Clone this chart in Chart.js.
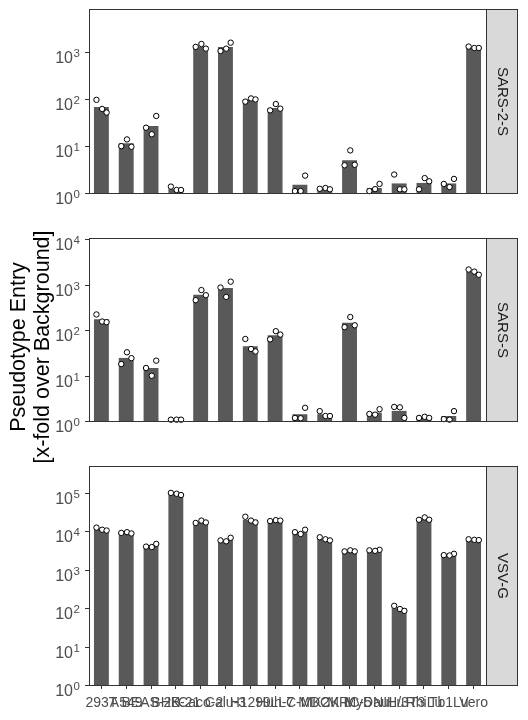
<!DOCTYPE html>
<html>
<head>
<meta charset="utf-8">
<script src="https://cdn.jsdelivr.net/npm/chart.js@4.4.0/dist/chart.umd.min.js"></script>
<style>
  html, body { margin: 0; padding: 0; background: #fff; }
  #wrap { position: relative; width: 528px; height: 720px; }
  #wrap canvas { position: absolute; left: 0; top: 0; }
</style>
</head>
<body>
<div id="wrap">
  <canvas id="p1" width="528" height="720"></canvas>
  <canvas id="p2" width="528" height="720"></canvas>
  <canvas id="p3" width="528" height="720"></canvas>
</div>
<script>
// cell lines (x categories)
const cellLines = ["293T", "A549", "BEAS-2B", "BHK-21", "Caco-2", "Calu-3", "H1299", "Huh-7",
  "LLC-MK2", "MDCK II", "MRC-5", "MyDauLu", "NIH/3T3", "RhiLu", "Tb1Lu", "Vero"];

const panelNames = ["SARS-2-S", "SARS-S", "VSV-G"];

// SARS-2-S
const sars2Mean = [68, 11.5, 27, 1.21, 1330, 1300, 97, 65, 1.5, 1.23, 5.0, 1.28, 1.6, 1.64, 1.6, 1275];
const sars2Reps = [[97, 62, 52], [13.9, 9.7, 10], [44, 24.7, 17.9], [1.37, 1.16, 1.16], [1510, 1200, 1310],
  [1610, 1070, 1200], [89, 104, 99], [79, 63, 58], [2.35, 1.1, 1.1], [1.23, 1.28, 1.2], [8.1, 4.0, 3.9],
  [1.56, 1.1, 1.21], [2.48, 1.2, 1.2], [2.08, 1.78, 1.2], [2.0, 1.56, 1.34], [1330, 1240, 1240]];

// SARS-S
const sarsMean = [174, 24.5, 14.7, 1.07, 600, 850, 44.5, 77, 1.41, 1.41, 146, 1.53, 1.67, 1.19, 1.29, 1900];
const sarsReps = [[222, 155, 150], [32.6, 24.2, 17.9], [21.3, 14.7, 9.9], [1.07, 1.07, 1.07], [765, 590, 458],
  [1170, 870, 540], [64, 38.6, 34], [95, 80, 63], [1.95, 1.17, 1.15], [1.65, 1.29, 1.29], [195, 128, 117],
  [1.82, 1.43, 1.38], [2.04, 2.0, 1.17], [1.24, 1.17, 1.17], [1.65, 1.1, 1.07], [2170, 1950, 1660]];

// VSV-G
const vsvMean = [11500, 9100, 4200, 94000, 17500, 6000, 20000, 19000, 9600, 6300, 3100, 3200, 100, 21000, 2450, 6000];
const vsvReps = [[12500, 11000, 10500], [9500, 8800, 9100], [4700, 4000, 3900], [100000, 95000, 88000],
  [19000, 17000, 16500], [6800, 5800, 5500], [24000, 19000, 17000], [19500, 19000, 18500], [11000, 9500, 8500],
  [7000, 6200, 5800], [3200, 3000, 3000], [3300, 3200, 3100], [115, 95, 85], [23000, 20000, 20000],
  [2600, 2400, 2350], [6200, 6000, 5900]];

// y axis: top of each panel (log10) and the decade ticks
const yTopExp = [3.925, 4.03, 5.70];
const yTickExp = [[0, 1, 2, 3], [0, 1, 2, 3, 4], [0, 1, 2, 3, 4, 5]];

const yTitle = ["Pseudotype Entry", "[x-fold over Background]"];

const FONT = '"Liberation Sans", Arial, sans-serif';
const jitter = [-0.2, 0.03, 0.21];

// panel boxes on the page
const panelTop = [9, 238, 466];
const panelBottom = [228, 456, 685];

const facetPlugin = {
  id: 'facet',
  afterDraw(chart, args, opts) {
    const ctx = chart.ctx, a = chart.chartArea, y = chart.scales.y;
    ctx.save();
    ctx.strokeStyle = '#333333';
    ctx.lineWidth = 1;
    // y ticks with 10^n labels
    opts.exps.forEach(function (e) {
      const py = Math.round(y.getPixelForValue(Math.pow(10, e))) + 0.5;
      ctx.beginPath();
      ctx.moveTo(a.left - 4, py);
      ctx.lineTo(a.left, py);
      ctx.stroke();
      ctx.fillStyle = '#4D4D4D';
      ctx.textBaseline = 'alphabetic';
      ctx.textAlign = 'right';
      ctx.font = '16px ' + FONT;
      ctx.fillText('10', a.left - 16, py + 10);
      ctx.textAlign = 'left';
      ctx.font = '11.5px ' + FONT;
      ctx.fillText(String(e), a.left - 15.5, py + 4);
    });
    // panel border
    const l = Math.round(a.left) + 0.5, t = Math.round(a.top) + 0.5;
    const r = Math.round(a.right) + 0.5, b = Math.round(a.bottom) + 0.5;
    ctx.strokeRect(l, t, r - l, b - t);
    // strip on the right
    ctx.fillStyle = '#D9D9D9';
    ctx.fillRect(r, t, 31, b - t);
    ctx.strokeRect(r, t, 31, b - t);
    ctx.save();
    ctx.translate(r + 15.5, (t + b) / 2);
    ctx.rotate(Math.PI / 2);
    ctx.fillStyle = '#1A1A1A';
    ctx.font = '15px ' + FONT;
    ctx.textAlign = 'center';
    ctx.textBaseline = 'middle';
    ctx.fillText(opts.name, 0, 0);
    ctx.restore();
    // shared y title
    if (opts.title) {
      ctx.save();
      ctx.translate(0, 347);
      ctx.rotate(-Math.PI / 2);
      ctx.fillStyle = '#000';
      ctx.font = '21.5px ' + FONT;
      ctx.textAlign = 'center';
      ctx.textBaseline = 'middle';
      ctx.fillText(opts.title[0], 0, 19.5);
      ctx.fillText(opts.title[1], 0, 43);
      ctx.restore();
    }
    ctx.restore();
  }
};

function makePanel(id, idx, means, reps) {
  const last = idx === 2;
  const pts = [];
  reps.forEach(function (r, i) {
    r.forEach(function (v, k) {
      pts.push({ x: i + jitter[(k + i) % 3], y: v });
    });
  });
  new Chart(document.getElementById(id), {
    type: 'bar',
    data: {
      labels: cellLines,
      datasets: [
        {
          type: 'scatter',
          data: pts,
          xAxisID: 'xj',
          yAxisID: 'y',
          pointRadius: 2.7,
          pointBorderWidth: 1,
          pointBorderColor: '#000',
          pointBackgroundColor: '#fff',
          clip: false,
          order: 0
        },
        {
          type: 'bar',
          data: means,
          xAxisID: 'x',
          yAxisID: 'y',
          backgroundColor: '#595959',
          barPercentage: 0.6,
          categoryPercentage: 1,
          grouped: false,
          order: 1
        }
      ]
    },
    options: {
      responsive: false,
      animation: false,
      events: [],
      layout: {
        padding: { left: 89, right: 42, top: panelTop[idx], bottom: last ? 0 : 720 - panelBottom[idx] }
      },
      plugins: {
        legend: { display: false },
        tooltip: { enabled: false },
        facet: { name: panelNames[idx], exps: yTickExp[idx], title: idx === 1 ? yTitle : null }
      },
      scales: {
        x: {
          type: 'category',
          offset: true,
          display: last,
          grid: { display: true, drawOnChartArea: false, drawTicks: true, tickLength: 4, color: '#333333', offset: false },
          border: { display: false },
          ticks: { autoSkip: false, maxRotation: 0, minRotation: 0, color: '#4D4D4D', font: { family: FONT, size: 14 }, padding: 6 },
          afterFit: function (s) { s.height = 35; }
        },
        xj: {
          type: 'linear', display: false, offset: false,
          min: -0.5, max: cellLines.length - 0.5, bounds: 'data',
          grid: { offset: false }
        },
        y: {
          type: 'logarithmic',
          display: false,
          min: 1,
          max: Math.pow(10, yTopExp[idx]),
          bounds: 'data'
        }
      }
    },
    plugins: [facetPlugin]
  });
}

makePanel('p1', 0, sars2Mean, sars2Reps);
makePanel('p2', 1, sarsMean, sarsReps);
makePanel('p3', 2, vsvMean, vsvReps);
</script>
</body>
</html>
